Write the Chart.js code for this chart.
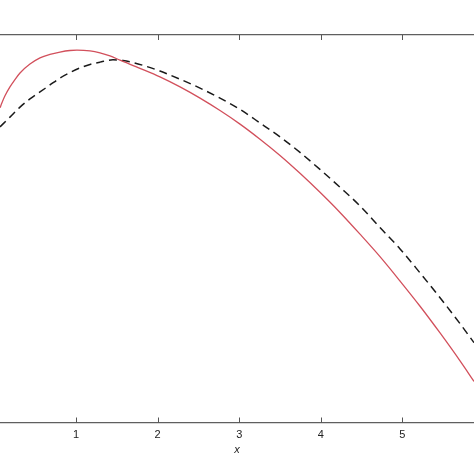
<!DOCTYPE html>
<html>
<head>
<meta charset="utf-8">
<script src="https://cdn.jsdelivr.net/npm/chart.js@4.4.1/dist/chart.umd.min.js"></script>
<style>
  html, body { margin: 0; padding: 0; background: #fff; }
  #wrap { width: 474px; height: 474px; }
</style>
</head>
<body>
<div id="wrap"><canvas id="c" width="474" height="474"></canvas></div>
<script>
// x range visible in the figure
const X_MIN = 0.069;
const X_MAX = 5.877;
const xTicks = [1, 2, 3, 4, 5];
const xLabel = 'x';

// Solid red curve
const redX = [0.069, 0.093, 0.130, 0.191, 0.252, 0.314, 0.436, 0.559, 0.681, 0.804, 0.926, 1.012, 1.172, 1.294, 1.417, 1.539, 1.784, 2.029, 2.275, 2.520, 2.765, 3.010, 3.255, 3.500, 3.745, 3.990, 4.235, 4.480, 4.725, 4.971, 5.216, 5.461, 5.706, 5.877];
const redY = [0.812, 0.825, 0.843, 0.866, 0.885, 0.902, 0.925, 0.941, 0.950, 0.956, 0.960, 0.961, 0.959, 0.954, 0.946, 0.935, 0.914, 0.892, 0.866, 0.837, 0.805, 0.770, 0.731, 0.689, 0.643, 0.594, 0.542, 0.486, 0.428, 0.365, 0.300, 0.231, 0.159, 0.106];

// Dashed black curve
const dashX = [0.069, 0.191, 0.314, 0.436, 0.559, 0.681, 0.804, 0.926, 1.049, 1.172, 1.294, 1.453, 1.576, 1.699, 1.846, 2.029, 2.275, 2.520, 2.765, 3.010, 3.255, 3.500, 3.745, 3.990, 4.235, 4.480, 4.725, 4.971, 5.216, 5.461, 5.706, 5.877];
const dashY = [0.763, 0.788, 0.814, 0.835, 0.853, 0.871, 0.889, 0.903, 0.915, 0.924, 0.930, 0.936, 0.934, 0.929, 0.920, 0.907, 0.886, 0.863, 0.837, 0.808, 0.773, 0.737, 0.697, 0.653, 0.607, 0.559, 0.503, 0.448, 0.386, 0.322, 0.255, 0.206];

const toPts = (xs, ys) => xs.map((x, i) => ({ x: x, y: ys[i] }));

const axisColor = '#5f5f5f';
const FONT = "'Liberation Sans', Arial, Helvetica, sans-serif";

const innerTicks = {
  id: 'innerTicks',
  afterDraw(chart) {
    const ctx = chart.ctx;
    const xs = chart.scales.x;
    const a = chart.chartArea;
    ctx.save();
    ctx.strokeStyle = '#555';
    ctx.lineWidth = 1;
    xs.ticks.forEach(t => {
      const px = Math.round(xs.getPixelForValue(t.value)) + 0.5;
      ctx.beginPath();
      ctx.moveTo(px, a.bottom);
      ctx.lineTo(px, a.bottom - 5);
      ctx.moveTo(px, a.top);
      ctx.lineTo(px, a.top + 5);
      ctx.stroke();
    });
    ctx.restore();
  }
};

const setTicks = (scale) => { scale.ticks = xTicks.map(v => ({ value: v })); };

new Chart(document.getElementById('c'), {
  type: 'line',
  data: {
    datasets: [
      {
        data: toPts(redX, redY),
        borderColor: '#d2505c',
        borderWidth: 1.3,
        pointRadius: 0,
        fill: false,
        cubicInterpolationMode: 'monotone'
      },
      {
        data: toPts(dashX, dashY),
        borderColor: '#1a1a1a',
        borderWidth: 1.5,
        borderDash: [8, 5],
        pointRadius: 0,
        fill: false,
        cubicInterpolationMode: 'monotone'
      }
    ]
  },
  options: {
    responsive: false,
    animation: false,
    devicePixelRatio: 1,
    layout: { padding: 0 },
    plugins: { legend: { display: false }, tooltip: { enabled: false } },
    scales: {
      x: {
        type: 'linear',
        position: 'bottom',
        min: X_MIN,
        max: X_MAX,
        afterBuildTicks: setTicks,
        afterFit: (s) => { s.height = 51.5; },
        ticks: { color: '#222', font: { family: FONT, size: 11 }, padding: 6, maxRotation: 0 },
        grid: { drawOnChartArea: false, drawTicks: false },
        border: { display: true, color: axisColor, width: 1.2 },
        title: { display: true, text: xLabel, color: '#222', font: { family: FONT, size: 11, style: 'italic' }, padding: { top: 4, bottom: 17 } }
      },
      x2: {
        type: 'linear',
        position: 'top',
        min: X_MIN,
        max: X_MAX,
        afterBuildTicks: setTicks,
        afterFit: (s) => { s.height = 35; },
        ticks: { display: false },
        grid: { drawOnChartArea: false, drawTicks: false },
        border: { display: true, color: axisColor, width: 1.2 }
      },
      y: { display: false, min: 0, max: 1 }
    }
  },
  plugins: [innerTicks]
});
</script>
</body>
</html>
